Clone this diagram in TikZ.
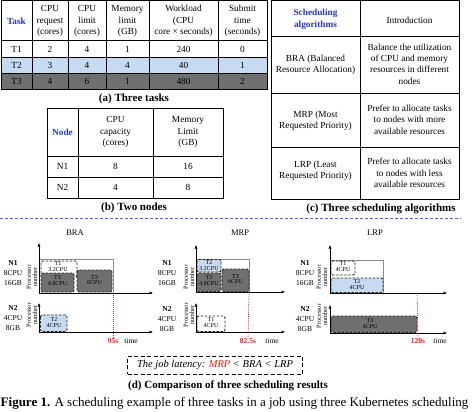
\documentclass[tikz,border=0pt]{standalone}
\usepackage{fontspec}
\setmainfont{Liberation Serif}
\usepackage{tikz}
\usetikzlibrary{arrows.meta,positioning}
\definecolor{skblue}{RGB}{35,55,200}
\definecolor{sklight}{RGB}{198,218,242}
\definecolor{skgrey}{RGB}{112,112,112}
\definecolor{skred}{RGB}{228,28,28}
\definecolor{skline}{RGB}{70,110,200}

\begin{document}
\begin{tikzpicture}[x=1pt,y=-1pt,
  cell/.style={font=\fontsize{9.3}{11.4}\selectfont,align=center,inner sep=0pt},
  head/.style={cell,font=\fontsize{9.3}{11.4}\selectfont\bfseries,text=skblue},
  capt/.style={font=\fontsize{11}{13}\selectfont\bfseries,inner sep=0pt},
  nlab/.style={font=\fontsize{7.5}{10}\selectfont,align=center,inner sep=0pt},
  proc/.style={font=\fontsize{6.3}{6.3}\selectfont,align=center,inner sep=0pt,rotate=90},
  tiny/.style={font=\fontsize{6}{5.5}\selectfont,align=center,inner sep=0pt},
  taskbox/.style={draw=black!85,line width=0.9pt,dash pattern=on 2.6pt off 1.4pt,rounded corners=2pt},
  frame/.style={draw=black!45,line width=0.5pt},
  ax/.style={-{Latex[length=3.5pt,width=3pt]},line width=0.5pt},
  lat/.style={skred,line width=0.6pt,dash pattern=on 1pt off 1pt},
  latlab/.style={font=\fontsize{7.5}{9}\selectfont\bfseries,text=skred,inner sep=0pt},
  tlab/.style={font=\fontsize{7.5}{9}\selectfont,inner sep=0pt}]

\useasboundingbox (0,0) rectangle (474,412);
\clip (0,0) rectangle (474,412);

% (a) tasks
\fill[sklight] (1,57) rectangle (267,73);
\fill[skgrey] (1,73) rectangle (267,89);
\draw[line width=0.6pt] (1,0.5) rectangle (267,89);
\foreach \x in {32,68,106,149,218}
    \draw[line width=0.5pt] (\x,0.5) -- (\x,89);
\foreach \y in {40,57,73}
    \draw[line width=0.5pt] (1,\y) -- (267,\y);

\node[head] (a-task) at (16.5,21) {Task};
\node[cell] (a-req) at (50,21) {CPU\\request\\(cores)};
\node[cell] (a-lim) at (87,21) {CPU\\limit\\(cores)};
\node[cell] (a-mem) at (127.5,21) {Memory\\limit\\(GB)};
\node[cell] (a-work) at (183.5,21) {Workload\\(CPU\\core × seconds)};
\node[cell] (a-sub) at (242.5,21) {Submit\\time\\(seconds)};

\foreach \y/\t/\r/\l/\m/\w/\s in {49/T1/2/4/1/240/0, 65/T2/3/4/4/40/1, 81/T3/4/6/1/480/2} {
    \node[cell] (a-\t) at (16.5,\y) {\t};
    \node[cell] (a-\t-req) at (50,\y) {\r};
    \node[cell] (a-\t-lim) at (87,\y) {\l};
    \node[cell] (a-\t-mem) at (127.5,\y) {\m};
    \node[cell] (a-\t-work) at (183.5,\y) {\w};
    \node[cell] (a-\t-sub) at (242.5,\y) {\s};
}

\node[capt] (cap-a) at (134,99) {(a) Three tasks};

% (b) nodes
\draw[line width=0.6pt] (47,108) rectangle (223,198);
\foreach \x in {78,153}
    \draw[line width=0.5pt] (\x,108) -- (\x,198);
\foreach \y in {156,177}
    \draw[line width=0.5pt] (47,\y) -- (223,\y);

\node[head] (b-node) at (62.5,132) {Node};
\node[cell] (b-cpu) at (115.5,132) {CPU\\capacity\\(cores)};
\node[cell] (b-mem) at (188,132) {Memory\\Limit\\(GB)};
\foreach \y/\n/\c/\m in {166.5/N1/8/16, 187.5/N2/4/8} {
    \node[cell] (b-\n) at (62.5,\y) {\n};
    \node[cell] (b-\n-cpu) at (115.5,\y) {\c};
    \node[cell] (b-\n-mem) at (188,\y) {\m};
}

\node[capt] (cap-b) at (134,208) {(b) Two nodes};

% (c) algorithms
\draw[line width=0.6pt] (271,0.5) rectangle (459,199);
\draw[line width=0.5pt] (360,0.5) -- (360,199);
\foreach \y in {36,93,147}
    \draw[line width=0.5pt] (271,\y) -- (459,\y);

\node[head] (c-alg) at (315.5,19.5) {Scheduling\\algorithms};
\node[cell] (c-intro) at (409.5,20) {Introduction};
\node[cell] (c-bra) at (315.5,65) {BRA (Balanced\\Resource Allocation)};
\node[cell] (c-bra-i) at (409.5,64) {Balance the utilization\\of CPU and memory\\resources in different\\nodes};
\node[cell] (c-mrp) at (315.5,121) {MRP (Most\\Requested Priority)};
\node[cell] (c-mrp-i) at (409.5,119.5) {Prefer to allocate tasks\\to nodes with more\\available resources};
\node[cell] (c-lrp) at (315.5,171) {LRP (Least\\Requested Priority)};
\node[cell] (c-lrp-i) at (409.5,173) {Prefer to allocate tasks\\to nodes with less\\available resources};

\node[capt] (cap-c) at (381,209) {(c) Three scheduling algorithms};

\draw[skline,line width=1pt,dash pattern=on 3pt off 2pt] (0,218) -- (461,218);

% (d) BRA
\node[font=\fontsize{8.5}{10}\selectfont,inner sep=0pt] (bra) at (75,233) {BRA};
\node[nlab] (bra-n1) at (13,273) {\textbf{N1}\\8CPU\\16GB};
\node[nlab] (bra-n2) at (13,318) {\textbf{N2}\\4CPU\\8GB};
\node[proc] (bra-p1) at (32,277) {Processor\\number};
\node[proc] (bra-p2) at (32,315) {Processor\\number};

\draw[frame] (39,259) rectangle (113,293);
\draw[taskbox,fill=white] (41,261) rectangle (77,277);
\node[tiny] (bra-t1) at (58,266.5) {T1\\3.2CPU};
\draw[taskbox,fill=skgrey] (41,273) rectangle (74,292);
\node[tiny] (bra-t3a) at (57.5,280.5) {T3\\4.8CPU};
\draw[taskbox,fill=skgrey] (77,270) rectangle (112,292);
\node[tiny] (bra-t3b) at (94.5,280) {T3\\6CPU};
\draw[taskbox,fill=sklight] (40.5,315) rectangle (67,331.5);
\node[tiny] (bra-t2) at (54,322.5) {T2\\4CPU};

\coordinate (bra-o1) at (39,293);
\coordinate (bra-y1) at (39,243);
\coordinate (bra-x1) at (153,293);
\coordinate (bra-o2) at (39,332);
\coordinate (bra-y2) at (39,303);
\coordinate (bra-x2) at (153,332);
\draw[ax] (bra-o1) -- (bra-y1);
\draw[ax] (bra-o1) -- (bra-x1);
\draw[ax] (bra-o2) -- (bra-y2);
\draw[ax] (bra-o2) -- (bra-x2);

\node[latlab] (bra-end) at (113,341) {95s};
\node[tlab] (bra-time) at (131,341) {time};
\coordinate (bra-top) at (113,293);
\draw[lat] (bra-top) -- (bra-end.north);

% (d) MRP
\node[font=\fontsize{8.5}{10}\selectfont,inner sep=0pt] (mrp) at (240,233) {MRP};
\node[nlab] (mrp-n1) at (167,273) {\textbf{N1}\\8CPU\\16GB};
\node[nlab] (mrp-n2) at (167,319) {\textbf{N2}\\4CPU\\8GB};
\node[proc] (mrp-p1) at (189,277) {Processor\\number};
\node[proc] (mrp-p2) at (189,315) {Processor\\number};

\draw[frame] (196,259) rectangle (249,292);
\draw[taskbox,fill=sklight] (197,259.5) rectangle (221,272);
\node[tiny] (mrp-t2) at (209,265.5) {T2\\3.2CPU};
\draw[taskbox,fill=skgrey] (197,273) rectangle (221,291.5);
\node[tiny] (mrp-t3a) at (209,280.5) {T3\\4.8CPU};
\draw[taskbox,fill=skgrey] (222,269) rectangle (249,291.5);
\node[tiny] (mrp-t3b) at (235.5,279) {T3\\6CPU};
\draw[taskbox,fill=white] (197,316) rectangle (225,331.5);
\node[tiny] (mrp-t1) at (211,322.5) {T1\\4CPU};

\coordinate (mrp-o1) at (196,292);
\coordinate (mrp-y1) at (196,245);
\coordinate (mrp-x1) at (285,292);
\coordinate (mrp-o2) at (196,332);
\coordinate (mrp-y2) at (196,303);
\coordinate (mrp-x2) at (285,332);
\draw[ax] (mrp-o1) -- (mrp-y1);
\draw[ax] (mrp-o1) -- (mrp-x1);
\draw[ax] (mrp-o2) -- (mrp-y2);
\draw[ax] (mrp-o2) -- (mrp-x2);

\node[latlab] (mrp-end) at (248,341) {82.5s};
\node[tlab] (mrp-time) at (272,341) {time};
\coordinate (mrp-top) at (249,292);
\draw[lat] (mrp-top) -- (mrp-end.north);

% (d) LRP
\node[font=\fontsize{8.5}{10}\selectfont,inner sep=0pt] (lrp) at (375,233) {LRP};
\node[nlab] (lrp-n1) at (305,273) {\textbf{N1}\\8CPU\\16GB};
\node[nlab] (lrp-n2) at (305,319) {\textbf{N2}\\4CPU\\8GB};
\node[proc] (lrp-p1) at (322,277) {Processor\\number};
\node[proc] (lrp-p2) at (322,316) {Processor\\number};

\draw[frame] (330,260) rectangle (383,293);
\draw[taskbox,fill=white] (331,261) rectangle (355,275);
\node[tiny] (lrp-t1) at (343,266.5) {T1\\4CPU};
\draw[taskbox,fill=sklight] (331,278) rectangle (383,292.5);
\node[tiny] (lrp-t2) at (357,284.5) {T2\\4CPU};
\draw[taskbox,fill=skgrey] (331,316) rectangle (417,332.5);
\node[tiny] (lrp-t3) at (370,323.5) {T3\\4CPU};

\coordinate (lrp-o1) at (330,293);
\coordinate (lrp-y1) at (330,245);
\coordinate (lrp-x1) at (447,293);
\coordinate (lrp-o2) at (330,333);
\coordinate (lrp-y2) at (330,305);
\coordinate (lrp-x2) at (447,333);
\draw[ax] (lrp-o1) -- (lrp-y1);
\draw[ax] (lrp-o1) -- (lrp-x1);
\draw[ax] (lrp-o2) -- (lrp-y2);
\draw[ax] (lrp-o2) -- (lrp-x2);

\node[latlab] (lrp-end) at (418,341) {120s};
\node[tlab] (lrp-time) at (440,341) {time};
\coordinate (lrp-top) at (417,293);
\draw[lat] (lrp-top) -- (lrp-end.north);

% latency and captions
\node[draw,line width=1pt,dash pattern=on 4pt off 2.5pt,minimum width=175pt,minimum height=18pt,
      font=\fontsize{10.5}{12}\selectfont\itshape,inner sep=0pt] (latency) at (215,365)
    {The job latency: \textcolor{skred}{MRP} < BRA < LRP};

\node[capt] (cap-d) at (228,386) {(d) Comparison of three scheduling results};

\node[font=\fontsize{13}{15}\selectfont,anchor=base west,inner sep=0pt] (fig) at (0.5,406.5)
    {\textbf{Figure 1.} A scheduling example of three tasks in a job using three Kubernetes scheduling};

\end{tikzpicture}
\end{document}
